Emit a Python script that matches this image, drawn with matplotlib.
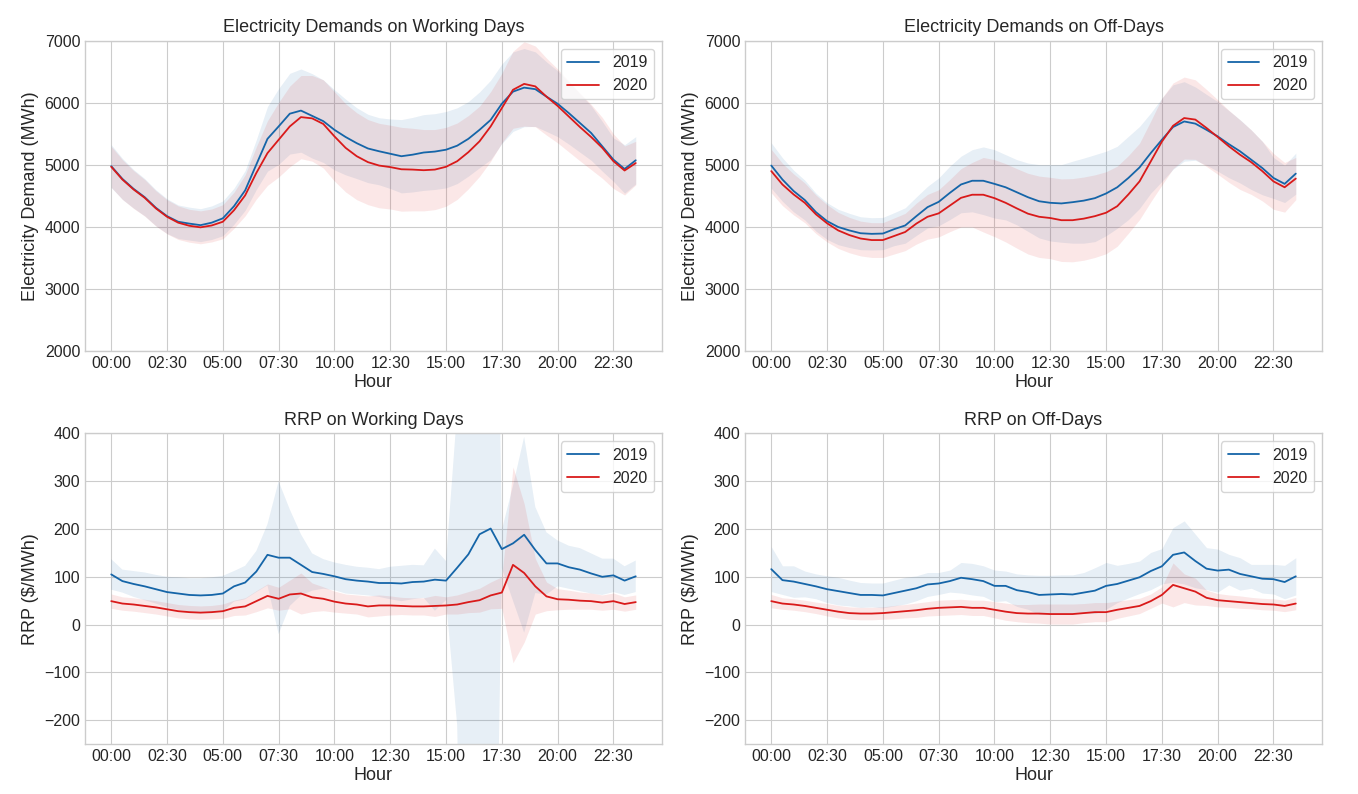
import matplotlib
matplotlib.use("Agg")
import matplotlib.pyplot as plt
import numpy as np

plt.style.use("seaborn-v0_8-whitegrid")
plt.rcParams["font.family"] = ["Liberation Sans", "DejaVu Sans"]

# half-hourly periods 00:00 .. 23:30
tick_labels = ["00:00", "02:30", "05:00", "07:30", "10:00",
               "12:30", "15:00", "17:30", "20:00", "22:30"]

# electricity demand, working days (mean / std)
dem_work_2019 = [4980, 4775, 4615, 4480, 4310, 4175, 4085, 4055, 4030, 4070,
                 4140, 4335, 4590, 5005, 5420, 5620, 5825, 5875, 5790, 5705,
                 5565, 5450, 5350, 5265, 5220, 5180, 5140, 5165, 5200, 5215,
                 5245, 5310, 5420, 5565, 5725, 5985, 6180, 6245, 6220, 6100,
                 5985, 5835, 5675, 5515, 5300, 5085, 4935, 5075]
dem_work_2019_sd = [345, 330, 310, 300, 290, 280, 270, 265, 265, 270,
                    280, 290, 320, 400, 520, 610, 650, 670, 680, 665,
                    645, 610, 570, 550, 540, 560, 590, 600, 610, 610,
                    615, 610, 600, 610, 640, 640, 640, 630, 600, 560,
                    530, 500, 470, 440, 400, 350, 390, 380]
dem_work_2020 = [4970, 4765, 4605, 4470, 4300, 4165, 4070, 4020, 3995, 4025,
                 4085, 4270, 4510, 4870, 5190, 5405, 5620, 5770, 5750, 5660,
                 5460, 5275, 5140, 5045, 4990, 4965, 4930, 4925, 4915, 4925,
                 4970, 5060, 5205, 5380, 5620, 5915, 6210, 6305, 6265, 6100,
                 5950, 5780, 5610, 5450, 5275, 5060, 4910, 5030]
dem_work_2020_sd = [330, 320, 305, 295, 285, 275, 270, 265, 265, 265,
                    275, 290, 330, 420, 520, 600, 650, 670, 690, 710,
                    720, 710, 700, 685, 680, 675, 675, 665, 655, 645,
                    635, 615, 590, 565, 560, 560, 620, 680, 650, 620,
                    595, 570, 545, 525, 490, 440, 395, 350]

# electricity demand, off-days
dem_off_2019 = [4990, 4765, 4580, 4435, 4240, 4095, 4000, 3945, 3900, 3890,
                3895, 3965, 4025, 4175, 4320, 4405, 4550, 4685, 4745, 4745,
                4695, 4640, 4560, 4480, 4415, 4390, 4380, 4400, 4425, 4465,
                4540, 4640, 4790, 4960, 5190, 5405, 5610, 5700, 5665, 5565,
                5460, 5335, 5220, 5085, 4950, 4790, 4695, 4860]
dem_off_2019_sd = [365, 350, 335, 320, 305, 295, 285, 275, 265, 260,
                   260, 265, 285, 310, 335, 385, 430, 455, 500, 545,
                   550, 525, 525, 550, 590, 615, 625, 660, 685, 700,
                   680, 660, 670, 660, 645, 670, 680, 640, 590, 570,
                   560, 540, 510, 480, 430, 330, 300, 330]
dem_off_2020 = [4900, 4685, 4525, 4390, 4205, 4060, 3945, 3870, 3815, 3790,
                3790, 3855, 3920, 4055, 4165, 4220, 4345, 4470, 4520, 4520,
                4465, 4390, 4300, 4215, 4165, 4145, 4110, 4110, 4135, 4175,
                4230, 4335, 4525, 4735, 5055, 5375, 5630, 5755, 5730, 5595,
                5450, 5300, 5165, 5045, 4900, 4735, 4640, 4780]
dem_off_2020_sd = [350, 340, 330, 320, 310, 300, 290, 285, 280, 280,
                   280, 290, 300, 330, 360, 380, 420, 470, 520, 600,
                   620, 630, 640, 650, 655, 655, 665, 670, 670, 665,
                   660, 645, 625, 615, 650, 700, 690, 660, 640, 620,
                   600, 580, 560, 520, 480, 450, 400, 340]

# RRP, working days
rrp_work_2019 = [105, 91, 85, 80, 74, 68, 65, 62, 61, 62,
                 65, 80, 88, 111, 146, 140, 140, 125, 110, 106,
                 101, 95, 92, 90, 87, 87, 86, 89, 90, 94,
                 92, 119, 147, 189, 201, 158, 170, 188, 156, 128,
                 128, 120, 115, 107, 100, 103, 92, 101]
rrp_work_2019_sd = [32, 24, 27, 29, 30, 32, 34, 35, 36, 37,
                    37, 32, 35, 43, 64, 160, 101, 64, 39, 31,
                    29, 30, 29, 29, 29, 34, 37, 36, 34, 65,
                    41, 330, 1500, 1500, 1500, 40, 120, 205, 90, 65,
                    48, 45, 45, 42, 38, 35, 30, 33]
rrp_work_2020 = [49, 44, 42, 39, 36, 32, 28, 26, 25, 26,
                 28, 35, 38, 49, 60, 54, 63, 65, 57, 54,
                 48, 44, 42, 38, 40, 40, 39, 38, 38, 39,
                 40, 42, 47, 51, 61, 67, 125, 108, 80, 59,
                 53, 52, 50, 49, 46, 49, 43, 47]
rrp_work_2020_sd = [15, 14, 14, 14, 14, 14, 14, 14, 14, 14,
                    15, 16, 18, 22, 25, 24, 30, 43, 30, 25,
                    22, 20, 20, 22, 22, 20, 18, 18, 18, 22,
                    18, 20, 22, 25, 28, 33, 205, 145, 58, 30,
                    22, 20, 18, 17, 16, 17, 15, 15]

# RRP, off-days
rrp_off_2019 = [116, 93, 90, 85, 80, 74, 70, 66, 62, 62,
                61, 66, 71, 76, 84, 86, 91, 98, 95, 91,
                81, 81, 72, 68, 62, 63, 64, 63, 67, 71,
                81, 85, 92, 99, 112, 122, 146, 151, 133, 117,
                113, 115, 106, 101, 96, 95, 89, 101]
rrp_off_2019_sd = [47, 30, 33, 27, 26, 28, 29, 27, 26, 25,
                   26, 27, 28, 26, 25, 23, 23, 32, 33, 32,
                   33, 31, 34, 36, 41, 40, 40, 41, 42, 48,
                   49, 39, 36, 34, 39, 37, 57, 66, 56, 44,
                   45, 32, 34, 25, 30, 31, 35, 39]
rrp_off_2020 = [49, 44, 42, 39, 35, 31, 27, 24, 23, 23,
                24, 26, 28, 30, 33, 35, 36, 37, 35, 35,
                31, 27, 24, 23, 23, 22, 22, 22, 24, 26,
                26, 31, 35, 39, 49, 62, 83, 76, 69, 56,
                51, 49, 47, 45, 43, 42, 39, 44]
rrp_off_2020_sd = [14, 12, 12, 12, 12, 13, 13, 13, 13, 13,
                   13, 14, 14, 15, 15, 16, 16, 16, 16, 16,
                   17, 18, 18, 19, 20, 21, 21, 21, 20, 20,
                   20, 18, 17, 16, 15, 17, 46, 30, 28, 16,
                   14, 13, 13, 12, 12, 12, 12, 13]

c2019 = "#1565a8"
c2020 = "#d91a1a"

panels = [
    ("Electricity Demands on Working Days", "Electricity Demand (MWh)",
     dem_work_2019, dem_work_2019_sd, dem_work_2020, dem_work_2020_sd, (2000, 7000)),
    ("Electricity Demands on Off-Days", "Electricity Demand (MWh)",
     dem_off_2019, dem_off_2019_sd, dem_off_2020, dem_off_2020_sd, (2000, 7000)),
    ("RRP on Working Days", r"RRP (\$/MWh)",
     rrp_work_2019, rrp_work_2019_sd, rrp_work_2020, rrp_work_2020_sd, (-250, 400)),
    ("RRP on Off-Days", r"RRP (\$/MWh)",
     rrp_off_2019, rrp_off_2019_sd, rrp_off_2020, rrp_off_2020_sd, (-250, 400)),
]

fig, axes = plt.subplots(2, 2, figsize=(13.58, 7.94), dpi=100)
fig.subplots_adjust(left=0.0626, right=0.9735, top=0.9487, bottom=0.063,
                    wspace=0.144, hspace=0.265)

for ax, (title, ylabel, m19, s19, m20, s20, ylim) in zip(axes.flat, panels):
    x = np.arange(len(m19))
    m19 = np.array(m19); s19 = np.array(s19)
    m20 = np.array(m20); s20 = np.array(s20)
    ax.plot(x, m19, color=c2019, lw=1.3, label="2019")
    ax.fill_between(x, m19 - s19, m19 + s19, color=c2019, alpha=0.1, lw=0)
    ax.plot(x, m20, color=c2020, lw=1.3, label="2020")
    ax.fill_between(x, m20 - s20, m20 + s20, color=c2020, alpha=0.1, lw=0)
    ax.set_xticks(np.arange(0, 48, 5))
    ax.set_xticklabels(tick_labels)
    ax.set_ylim(*ylim)
    ax.set_title(title, fontsize=13)
    ax.set_xlabel("Hour", fontsize=13, labelpad=2)
    ax.set_ylabel(ylabel, fontsize=13)
    ax.tick_params(labelsize=11.5)
    for sp in ax.spines.values():
        sp.set_visible(True)
        sp.set_color("#cccccc")
    ax.legend(loc="upper right", frameon=True, fontsize=11.5)

fig.savefig("out.png", dpi=100)
